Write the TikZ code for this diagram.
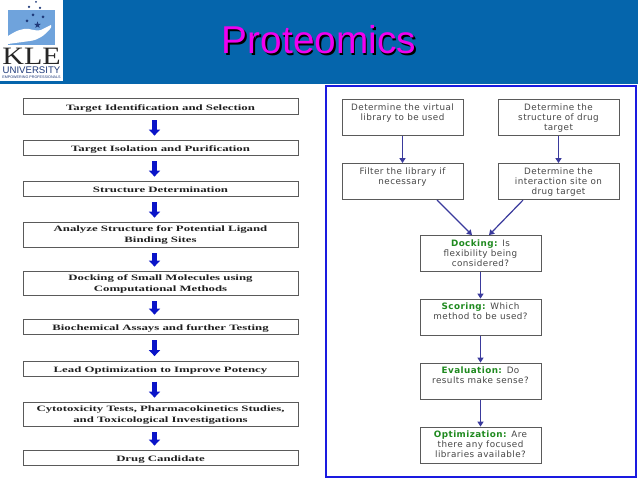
\documentclass[tikz,border=0pt]{standalone}
\usepackage{fontspec}
\setmainfont{Liberation Sans}
\newfontfamily\ltfont[FakeStretch=1.56]{Liberation Serif Bold}
\newfontfamily\rtfont[LetterSpace=5]{DejaVu Sans}
\newfontfamily\logoserif[FakeStretch=1.2]{Liberation Serif}
\usetikzlibrary{arrows.meta,shapes.geometric}
\definecolor{band}{HTML}{0565AC}
\definecolor{title}{HTML}{F000F0}
\definecolor{edgegray}{HTML}{5A5A5A}
\definecolor{frameblue}{HTML}{1A1AE0}
\definecolor{bigblue}{HTML}{0A14C8}
\definecolor{linkblue}{HTML}{3A3A9C}
\definecolor{greenword}{HTML}{1F8A1F}
\definecolor{logoblue}{HTML}{6FA3DC}
\definecolor{logonavy}{HTML}{1F3A7A}
\newcommand{\rbody}[1]{\parbox[c][34pt][t]{118pt}{\centering\rtfont\fontsize{8.8}{10}\selectfont\color{black!72}\vspace{3.2pt}#1}}
\newcommand{\gw}[1]{\textcolor{greenword}{\textbf{#1}}}
\tikzset{
  x=1pt,y=-1pt,
  lbox/.style={draw=edgegray,line width=1pt,fill=white,minimum width=275pt,inner sep=0pt,align=center,
    font=\ltfont\fontsize{8.2}{11}\selectfont,text=black!88},
  lone/.style={lbox,text height=9pt,text depth=2pt},
  rbox/.style={draw=edgegray,line width=1pt,fill=white,minimum width=121pt,minimum height=36pt,inner sep=0pt},
  bigarrow/.style={draw=bigblue,line width=5.5pt,-{Triangle[length=6pt,width=11pt]},shorten <=5pt,shorten >=4.5pt},
  thinarrow/.style={draw=linkblue,line width=1.2pt,-{Triangle[length=5pt,width=6pt]}},
  star5/.style={star,star points=5,star point ratio=2.4,fill=logonavy,inner sep=0pt},
  dot5/.style={circle,fill=logonavy,inner sep=0pt,minimum size=3pt}
}
\begin{document}
\begin{tikzpicture}
\useasboundingbox (0,0) rectangle (638,478);
% header
\fill[white] (0,0) rectangle (638,478);
\fill[band] (0,0) rectangle (638,84);
\fill[white] (0,0) rectangle (63,81);
% logo
\fill[logoblue] (8,10) rectangle (55,45);
\fill[white] (8,36) .. controls (16,31) and (22,28) .. (29,29) .. controls (33,30) and (38,31) .. (41,30)
  -- (51,25) .. controls (52,26) and (51,28) .. (50,29) .. controls (44,36) and (38,40) .. (30,41) -- (8,44) -- cycle;
\node[dot5,minimum size=2pt] (s1) at (36,2) {};
\node[dot5,minimum size=2.5pt] (s2) at (29,7) {};
\node[dot5,minimum size=2.5pt] (s3) at (40,8) {};
\node[dot5] (s4) at (33,15) {};
\node[dot5] (s5) at (43,17) {};
\node[dot5] (s6) at (27,21) {};
\node[star5,minimum size=7pt] (s7) at (37.5,25) {};
\node[inner sep=0pt,text height=17pt,text depth=0pt,font=\logoserif\fontsize{25}{25}\selectfont,text=black!85] (kle) at (31.5,56) {KLE};
\node[inner sep=0pt,text height=7pt,text depth=0pt,font=\fontsize{9.6}{10}\selectfont,text=logonavy] (univ) at (31.5,70.5) {UNIVERSITY};
\node[inner sep=0pt,text height=3pt,text depth=0pt,font=\fontsize{3.7}{4}\selectfont,text=logonavy] (emp) at (31.5,77.5) {EMPOWERING PROFESSIONALS};
% title
\node[inner sep=0pt,font=\fontsize{38.8}{40}\selectfont,text=black] (titleshadow) at (320.5,41.5) {Proteomics};
\node[inner sep=0pt,font=\fontsize{38.8}{40}\selectfont,text=title] (titletext) at (319,40) {Proteomics};
\begin{scope}[yshift=-0.6pt]
% left flow
\node[lone,minimum height=16pt] (l1) at (160.5,106) {Target Identification and Selection};
\node[lone,minimum height=15pt] (l2) at (160.5,147.5) {Target Isolation and Purification};
\node[lone,minimum height=15pt] (l3) at (160.5,188.5) {Structure Determination};
\node[lbox,minimum height=25pt] (l4) at (160.5,234.5) {Analyze Structure for Potential Ligand\\Binding Sites};
\node[lbox,minimum height=24pt] (l5) at (160.5,283) {Docking of Small Molecules using\\Computational Methods};
\node[lone,minimum height=15pt] (l6) at (160.5,326.5) {Biochemical Assays and further Testing};
\node[lone,minimum height=15pt] (l7) at (160.5,368) {Lead Optimization to Improve Potency};
\node[lbox,minimum height=24pt] (l8) at (160.5,414) {Cytotoxicity Tests, Pharmacokinetics Studies,\\and Toxicological Investigations};
\node[lone,minimum height=15pt] (l9) at (160.5,457.5) {Drug Candidate};
\foreach \a/\b in {l1/l2,l2/l3,l3/l4,l4/l5,l5/l6,l6/l7,l7/l8,l8/l9}
  \draw[bigarrow] ([xshift=-6pt]\a.south) -- ([xshift=-6pt]\b.north);
% right panel
\node[draw=frameblue,line width=2pt,fill=white,minimum width=310pt,minimum height=391pt,inner sep=0pt] (panel) at (480.5,281) {};
\node[rbox] (r1) at (402.5,117) {\rbody{Determine the virtual\\library to be used}};
\node[rbox] (r2) at (558.5,117) {\rbody{Determine the\\structure of drug\\target}};
\node[rbox] (r3) at (402.5,181) {\rbody{Filter the library if\\necessary}};
\node[rbox] (r4) at (558.5,181) {\rbody{Determine the\\interaction site on\\drug target}};
\node[rbox] (r5) at (480.5,253) {\rbody{\gw{Docking:} Is\\flexibility being\\considered?}};
\node[rbox] (r6) at (480.5,316.5) {\rbody{\gw{Scoring:} Which\\method to be used?}};
\node[rbox] (r7) at (480.5,380.5) {\rbody{\gw{Evaluation:} Do\\results make sense?}};
\node[rbox] (r8) at (480.5,444.5) {\rbody{\gw{Optimization:} Are\\there any focused\\libraries available?}};
\draw[thinarrow] (r1) -- (r3);
\draw[thinarrow] (r2) -- (r4);
\draw[thinarrow] ([xshift=34.5pt]r3.south) -- ([xshift=-8.5pt]r5.north);
\draw[thinarrow] ([xshift=-35.5pt]r4.south) -- ([xshift=8.5pt]r5.north);
\draw[thinarrow] (r5) -- (r6);
\draw[thinarrow] (r6) -- (r7);
\draw[thinarrow] (r7) -- (r8);
\end{scope}
\end{tikzpicture}
\end{document}
